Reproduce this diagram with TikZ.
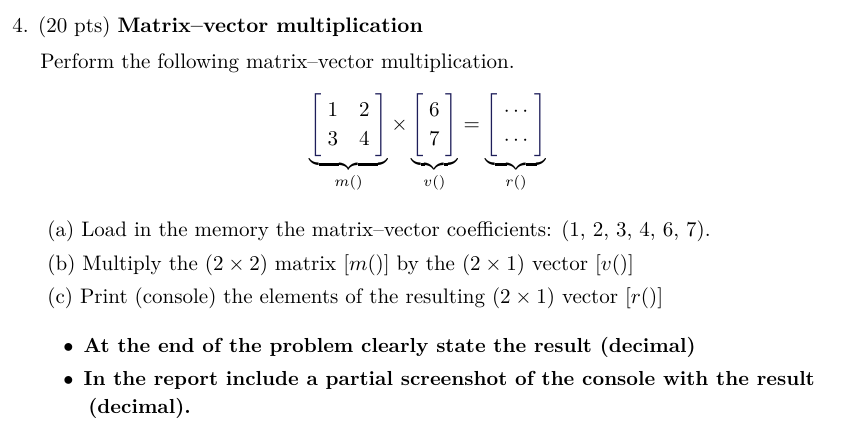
\documentclass[tikz,border=0pt]{standalone}
\usepackage{amsmath}
\usepackage{xcolor}
\definecolor{brk}{RGB}{30,30,90}
\begin{document}
\begin{tikzpicture}[x=1pt,y=1pt,
  txt/.style={anchor=base west,inner sep=0pt,scale=2.1},
  btxt/.style={anchor=base west,inner sep=0pt,scale=2.03}]
\useasboundingbox (0,0) rectangle (842,-428);
\node[txt] (t) at (12,-33) {4. (20 pts) \textbf{Matrix--vector multiplication}};
\node[txt] (p) at (40,-68) {Perform the following matrix--vector multiplication.};
\node[inner sep=0pt,scale=2.1] (m) at (428,-143) {$\renewcommand{\arraystretch}{1.15}
\underbrace{\color{brk}\left[\color{black}\;\begin{matrix}1&2\\3&4\end{matrix}\;\color{brk}\right]}_{m()}
\times
\underbrace{\color{brk}\left[\color{black}\;\begin{matrix}6\\7\end{matrix}\;\color{brk}\right]}_{v()}
=
\underbrace{\color{brk}\left[\color{black}\;\begin{matrix}\cdots\\\cdots\end{matrix}\;\color{brk}\right]}_{r()}$};
\node[txt] (a) at (47,-236) {(a) Load in the memory the matrix--vector coefficients: (1, 2, 3, 4, 6, 7).};
\node[txt] (b) at (47,-270) {(b) Multiply the $(2\times2)$ matrix $[m()]$ by the $(2\times1)$ vector $[v()]$};
\node[txt] (c) at (47,-303) {(c) Print (console) the elements of the resulting $(2\times1)$ vector $[r()]$};
\node[btxt] (b1) at (63,-352) {$\bullet$\hspace{5pt}\textbf{At the end of the problem clearly state the result (decimal)}};
\node[btxt] (b2) at (63,-385) {$\bullet$\hspace{5pt}\textbf{In the report include a partial screenshot of the console with the result}};
\node[btxt] (b3) at (88,-413) {\textbf{(decimal).}};
\end{tikzpicture}
\end{document}
